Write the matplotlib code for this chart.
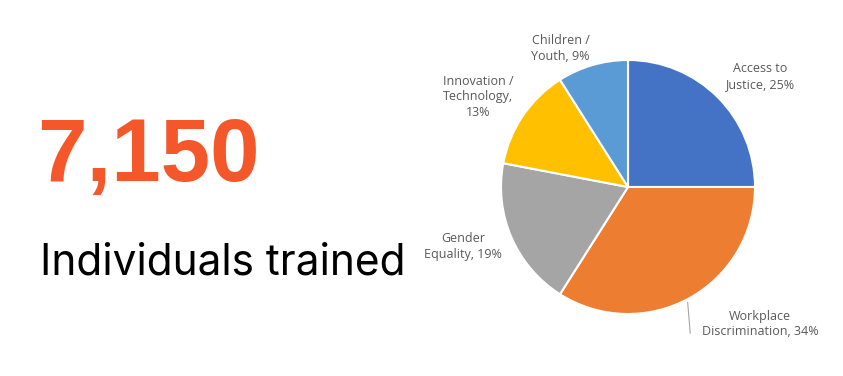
import matplotlib
matplotlib.use('Agg')
import matplotlib.pyplot as plt

# --------------------------------------------------
# Data
# --------------------------------------------------
total_trained = "7,150"
subtitle = "Individuals trained"

categories = ["Access to\nJustice", "Workplace\nDiscrimination", "Gender\nEquality",
              "Innovation /\nTechnology,\n", "Children /\nYouth"]
shares = [25, 34, 19, 13, 9]
colors = ["#4472C4", "#ED7D31", "#A5A5A5", "#FFC000", "#5B9BD5"]

# label anchor points (in pie radius units), like Excel's "best fit"
label_pos = [(1.04, 0.87), (1.04, -1.08), (-1.30, -0.47), (-1.18, 0.71), (-0.53, 1.09)]

W, H = 843, 376
fig = plt.figure(figsize=(W / 100, H / 100), dpi=100)

# --------------------------------------------------
# Big number + caption
# --------------------------------------------------
fig.text(37 / W, 1 - 158 / H, total_trained, fontsize=64, fontweight='bold',
         family='Liberation Sans', color='#F4572A', va='center', ha='left')
fig.text(40 / W, 1 - 263 / H, subtitle, fontsize=30.5, family='Inter',
         color='black', va='center', ha='left')

# --------------------------------------------------
# Pie chart
# --------------------------------------------------
cx, cy, r = 628, 187, 127
ax = fig.add_axes([(cx - r) / W, (H - cy - r) / H, 2 * r / W, 2 * r / H])
ax.pie(shares, colors=colors, startangle=90, counterclock=False, radius=1.0,
       wedgeprops=dict(edgecolor='white', linewidth=1.5))
ax.set_xlim(-1, 1)
ax.set_ylim(-1, 1)
ax.set_aspect('equal')
ax.axis('off')

for name, val, (lx, ly) in zip(categories, shares, label_pos):
    sep = "" if name.endswith("\n") else ", "
    ax.text(lx, ly, f"{name}{sep}{val}%", ha='center', va='center', fontsize=9,
            family='Open Sans', color='#595959', linespacing=1.25, clip_on=False)

# leader line for the workplace label
ax.plot([0.47, 0.49], [-0.91, -1.15], color='#A6A6A6', linewidth=0.8, clip_on=False)

fig.savefig('out.png', dpi=100)
